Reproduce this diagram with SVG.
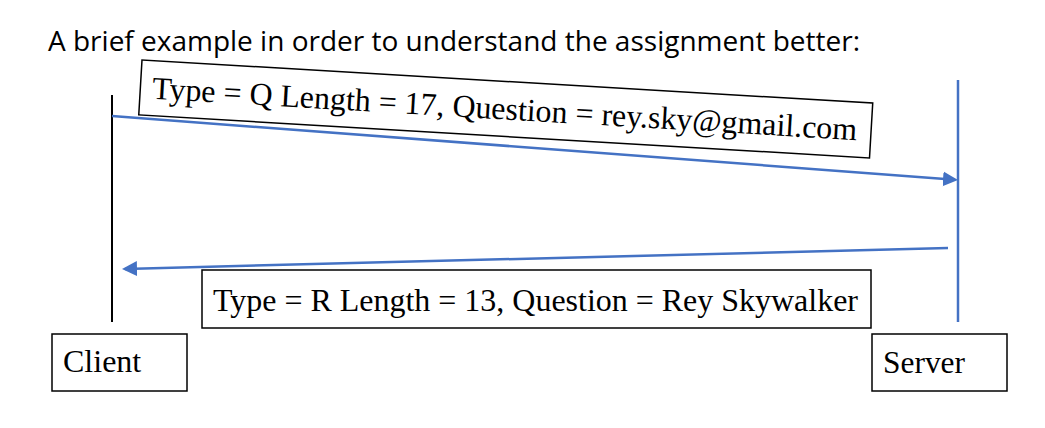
<svg xmlns="http://www.w3.org/2000/svg" width="1045" height="428" viewBox="0 0 1045 428">
<style>
.box{fill:#fff;stroke:#000;stroke-width:1.5}
.t{font-family:"Liberation Serif","Times New Roman",serif;font-size:32px;fill:#000}
.title{font-family:"Open Sans","Liberation Sans",sans-serif;font-size:28px;fill:#000}
.msg{stroke:#4472C4;stroke-width:2.5;fill:none}
</style>
<defs>
<marker id="ah" markerUnits="userSpaceOnUse" markerWidth="16" markerHeight="16" refX="12" refY="7.5" orient="auto">
<path d="M0,0 L15,7.5 L0,15 z" fill="#4472C4"/>
</marker>
</defs>
<rect width="1045" height="428" fill="#fff"/>
<text class="title" x="48" y="51" textLength="812" lengthAdjust="spacingAndGlyphs">A brief example in order to understand the assignment better:</text>
<g id="client">
<line x1="112" y1="95" x2="112" y2="322" stroke="#000" stroke-width="2"/>
<rect class="box" x="52" y="334" width="135" height="57"/>
<text class="t" x="63" y="372">Client</text>
</g>
<g id="server">
<line x1="958" y1="80" x2="958" y2="322" stroke="#4472C4" stroke-width="2.5"/>
<rect class="box" x="872" y="334" width="135" height="57"/>
<text class="t" x="883" y="373" textLength="82" lengthAdjust="spacingAndGlyphs">Server</text>
</g>
<g id="connectors">
<line class="msg" x1="112" y1="116" x2="955" y2="179.8" marker-end="url(#ah)"/>
<line class="msg" x1="948" y1="248" x2="125" y2="268.9" marker-end="url(#ah)"/>
</g>
<g id="label-query" transform="translate(142,60) rotate(3.37)">
<rect class="box" x="0" y="0" width="732" height="55"/>
<text class="t" x="12" y="38" textLength="706" lengthAdjust="spacingAndGlyphs">Type = Q Length = 17, Question = rey.sky@gmail.com</text>
</g>
<g id="label-response">
<rect class="box" x="202" y="270" width="669" height="58"/>
<text class="t" x="213" y="311" textLength="645" lengthAdjust="spacingAndGlyphs">Type = R Length = 13, Question = Rey Skywalker</text>
</g>
</svg>
